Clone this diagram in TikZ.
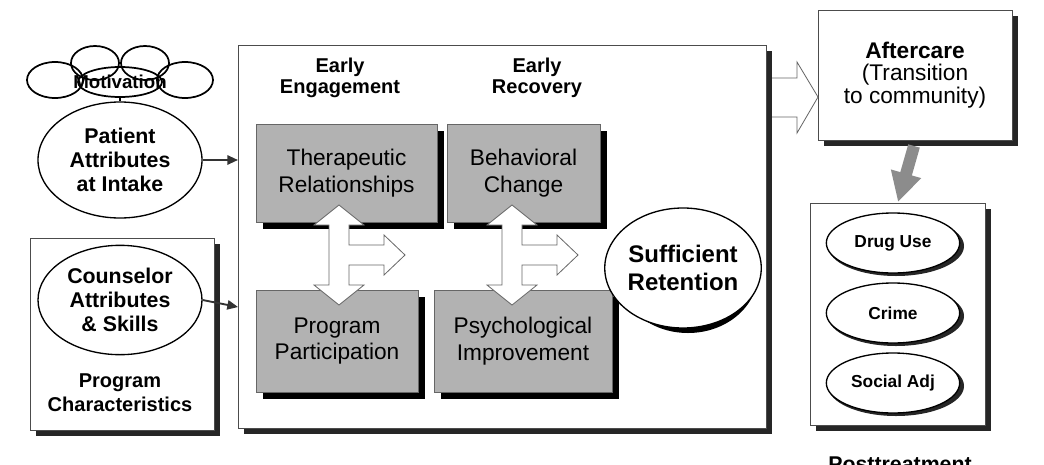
\documentclass[tikz,border=0pt]{standalone}
\usepackage{fontspec}
\setmainfont{Liberation Sans}
\usetikzlibrary{shapes.geometric,arrows.meta}
\begin{document}
\begin{tikzpicture}[x=0.75pt,y=-0.75pt,
  shadowbox/.style={draw=black!70,line width=0.6pt,fill=white},
  graybox/.style={draw=black!60,fill=black!30,line width=0.5pt},
  oval/.style={ellipse,draw,line width=1pt,fill=white,align=center,inner sep=0pt},
  lbl/.style={align=center,font=\bfseries\fontsize{15}{16}\selectfont},
  conn/.style={-{Triangle[length=8pt,width=7pt]},line width=1.4pt,black!80},
  hollow/.style={fill=white,draw=black!60,line width=0.6pt}]
\useasboundingbox (0,0) rectangle (1044,464);
\clip (0,0) rectangle (1044,464);
% main box
\fill[black!85] (244,51) rectangle (772,434);
\draw[shadowbox] (238,45) rectangle (766,428);
\coordinate (mainE) at (238,160);
\coordinate (mainF) at (238,307);
\node[lbl] (ee) at (340,78) {Early\\Engagement};
\node[lbl] (er) at (537,78) {Early\\Recovery};
% gray boxes
\foreach \a/\b/\c/\d/\n/\t in {256/124/437/222/tr/{Therapeutic\\Relationships},447/124/600/222/bc/{Behavioral\\Change},256/290/418/392/pp/{Program\\Participation},434/290/612/392/pi/{Psychological\\Improvement}}{
  \fill[black] (\a+7,\b+7) rectangle (\c+7,\d+7);
  \draw[graybox] (\a,\b) rectangle (\c,\d);
  \node[align=center,font=\fontsize{17}{20}\selectfont] (\n) at ({(\a+\c)/2},{(\b+\d)/2}) {\t};
}
% cross arrows
\foreach \cx in {339,512}{
\draw[hollow] (\cx,205) -- (\cx+25,225) -- (\cx+10,225) -- (\cx+10,245) -- (\cx+45,245) -- (\cx+45,235) -- (\cx+66,255) -- (\cx+45,275) -- (\cx+45,265) -- (\cx+10,265) -- (\cx+10,285) -- (\cx+25,285) -- (\cx,305) -- (\cx-25,285) -- (\cx-10,285) -- (\cx-10,225) -- (\cx-25,225) -- cycle;
}
% sufficient retention
\fill[black] (688,273) ellipse [x radius=70,y radius=60];
\node[oval,minimum width=105pt,minimum height=90pt,font=\bfseries\fontsize{18}{21}\selectfont] (sr) at (683,268) {Sufficient\\Retention};
% motivation cloud
\foreach \x/\y/\rx/\ry in {55/80/28/18,185/80/28/18,95/63/24/17,145/63/24/17,120/82/42/15}
  \draw[line width=1.3pt] (\x,\y) ellipse [x radius=\rx,y radius=\ry];
\node[font=\bfseries\fontsize{14}{14}\selectfont] (mot) at (120,82) {Motivation};
\node[oval,minimum width=123pt,minimum height=87pt,font=\bfseries\fontsize{16}{18}\selectfont] (pa) at (120,160) {Patient\\Attributes\\at Intake};
\draw[line width=1.2pt] (mot.south) ++(0,4) -- (pa.north);
\draw[conn] (pa.east) -- (mainE);
% program characteristics
\fill[black!85] (36,244) rectangle (220,436);
\draw[shadowbox] (30,238) rectangle (214,430);
\node[oval,minimum width=123pt,minimum height=82pt,font=\bfseries\fontsize{16}{18}\selectfont] (ca) at (120,300) {Counselor\\Attributes\\\& Skills};
\node[align=center,font=\bfseries\fontsize{15}{18}\selectfont] (pc) at (120,393) {Program\\Characteristics};
\draw[conn] (ca.east) -- (mainF);
% aftercare
\fill[black!85] (824,16) rectangle (1018,146);
\draw[shadowbox] (818,10) rectangle (1012,140);
\node[align=center,font=\fontsize{17}{19}\selectfont] (ac) at (915,75) {\textbf{Aftercare}\\[-2pt](Transition\\[-2pt]to community)};
\draw[hollow] (772,78) -- (797,78) -- (797,62) -- (818,97) -- (797,133) -- (797,117) -- (772,117);
% posttreatment
\fill[black!85] (816,209) rectangle (991,431);
\draw[shadowbox] (810,203) rectangle (985,425);
\draw[-{Triangle[length=22pt,width=22pt]},line width=9pt,black!45] (914,146) -- (898,202);
\foreach \y/\n/\t in {243/du/Drug Use,313/cr/Crime,383/sa/Social Adj}{
  \fill[black!85] (896,\y+3) ellipse [x radius=68,y radius=30];
  \node[oval,minimum width=100pt,minimum height=45pt,font=\bfseries\fontsize{13}{13}\selectfont] (\n) at (893,\y) {\t};
}
\node[font=\bfseries\fontsize{16}{16}\selectfont] (pt) at (900,464) {Posttreatment};
\end{tikzpicture}
\end{document}
